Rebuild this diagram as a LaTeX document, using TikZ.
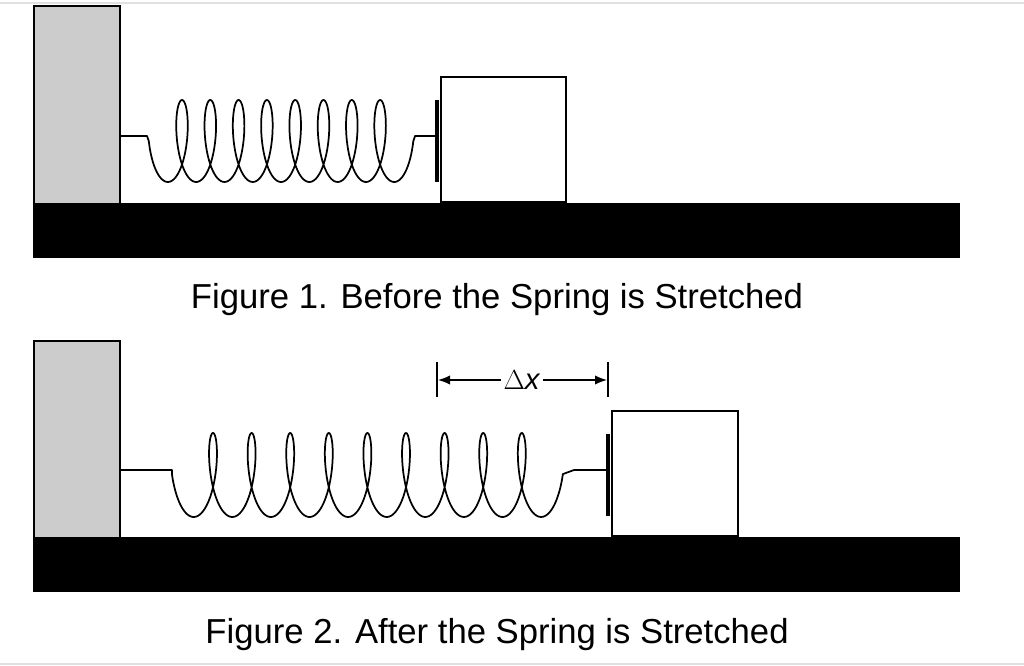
\documentclass[tikz,border=0pt]{standalone}
\usepackage{fontspec}
\setmainfont{Liberation Sans}
\usetikzlibrary{arrows.meta}
\begin{document}
\begin{tikzpicture}[x=0.75pt,y=-0.75pt,
  wall/.style={fill={rgb,255:red,204;green,204;blue,204},draw=black,line width=1.2pt},
  ground/.style={fill=black,draw=none},
  block/.style={draw=black,fill=white,line width=1.2pt},
  plate/.style={line width=3pt},
  coil/.style={line width=1.3pt,line join=round},
  captext/.style={font=\fontsize{26pt}{30pt}\selectfont},
  dim/.style={line width=1.1pt}]
\useasboundingbox (0,0) rectangle (1024,666);
\draw[black!12,line width=1pt] (0,3) -- (1024,3);
\draw[black!12,line width=1pt] (0,664) -- (1024,664);
% Figure 1
\node[wall,minimum width=86*0.75pt,minimum height=198*0.75pt,inner sep=0,anchor=north west] (w1) at (33,5) {};
\node[ground,minimum width=927*0.75pt,minimum height=55*0.75pt,inner sep=0,anchor=north west] (g1) at (33,203) {};
\node[block,minimum width=125*0.75pt,minimum height=125*0.75pt,inner sep=0,anchor=north west] (b1) at (440,76) {};
\coordinate (p1a) at (437,100); \coordinate (p1b) at (437,182);
\draw[plate] (p1a) -- (p1b);
\coordinate (s1l) at (119,136); \coordinate (s1r) at (437,136);
\draw[coil] (s1l) -- (147,136) -- plot[domain=-4.712:48.69,samples=500,variable=\t]
  ({182+28.3*\t/6.2832-12*sin(\t r)},{141-41*cos(\t r)}) -- (415,136) -- (s1r);
\node[captext] (c1) at (497,300) {Figure 1. Before the Spring is Stretched};
% Figure 2
\node[wall,minimum width=86*0.75pt,minimum height=197*0.75pt,inner sep=0,anchor=north west] (w2) at (33,340) {};
\node[ground,minimum width=927*0.75pt,minimum height=55*0.75pt,inner sep=0,anchor=north west] (g2) at (33,537) {};
\node[block,minimum width=126*0.75pt,minimum height=125*0.75pt,inner sep=0,anchor=north west] (b2) at (611,410) {};
\coordinate (p2a) at (608,434); \coordinate (p2b) at (608,516);
\draw[plate] (p2a) -- (p2b);
\coordinate (s2l) at (119,470); \coordinate (s2r) at (608,470);
\draw[coil] (s2l) -- (172,470) -- plot[domain=-4.712:55.0,samples=600,variable=\t]
  ({213+38.6*\t/6.2832-12*sin(\t r)},{475-42*cos(\t r)}) -- (574,470) -- (s2r);
% Delta x
\coordinate (t1a) at (437,362); \coordinate (t1b) at (437,397);
\coordinate (t2a) at (608,362); \coordinate (t2b) at (608,397);
\draw[dim] (t1a) -- (t1b); \draw[dim] (t2a) -- (t2b);
\node[font=\fontsize{22pt}{26pt}\selectfont,inner sep=2pt] (dx) at (522,380) {$\Delta$\textit{x}};
\draw[dim,-{Latex[length=9pt,width=7pt]}] (dx.west) -- (438,380);
\draw[dim,-{Latex[length=9pt,width=7pt]}] (dx.east) -- (607,380);
\node[captext] (c2) at (497,635) {Figure 2. After the Spring is Stretched};
\end{tikzpicture}
\end{document}
